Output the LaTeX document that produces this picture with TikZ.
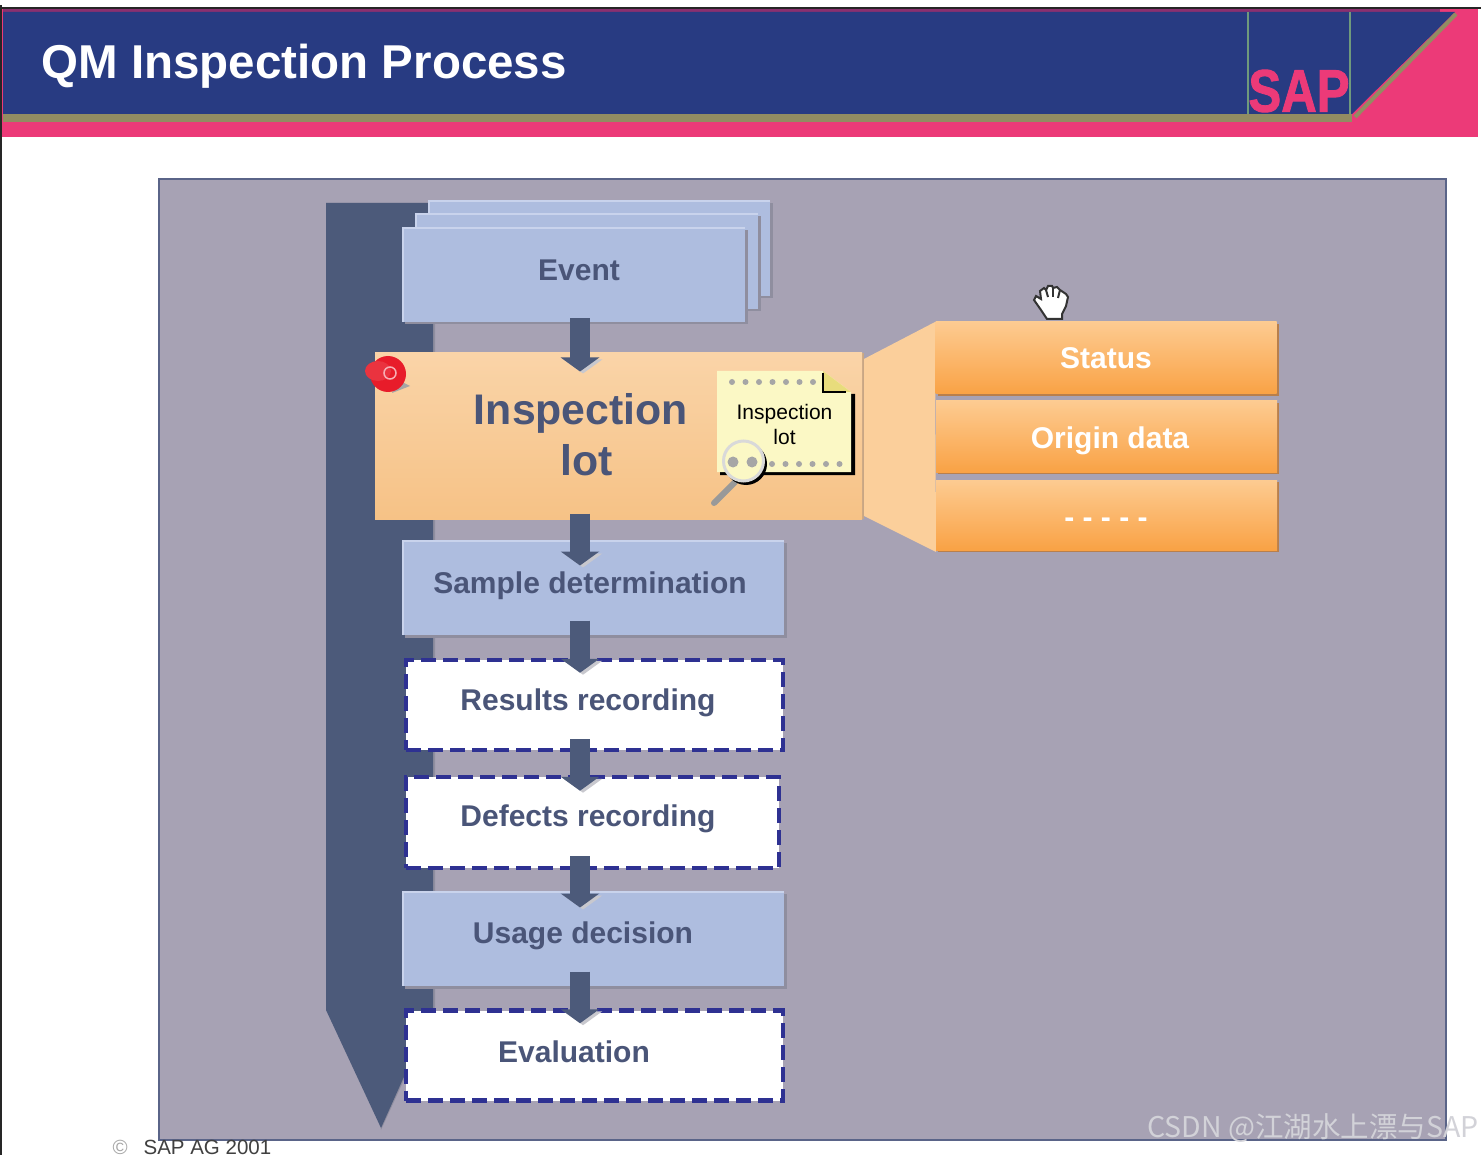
\documentclass[tikz,border=0pt]{standalone}
\usepackage{fontspec}
\setmainfont{Liberation Sans}
\newfontfamily\cjk{Noto Sans CJK SC}
\newfontfamily\logofont[BoldFeatures={FakeBold=1.5}]{Liberation Sans}
\usepackage{xcolor}
\usetikzlibrary{arrows.meta}
\usetikzlibrary{shadows}
\definecolor{sapblue}{HTML}{283B82}
\definecolor{sappink}{HTML}{EC3A78}
\definecolor{sappurple}{HTML}{8A3070}
\definecolor{sapolive}{HTML}{928C62}
\definecolor{sapgreen}{HTML}{6F9A7C}
\definecolor{panelgray}{HTML}{A7A2B4}
\definecolor{paneledge}{HTML}{5A6488}
\definecolor{spine}{HTML}{4C5A7A}
\definecolor{flowblue}{HTML}{AEBDDF}
\definecolor{flowlight}{HTML}{C9D3EC}
\definecolor{flowedge}{HTML}{8F8E9F}
\definecolor{flowtext}{HTML}{4A5578}
\definecolor{dashblue}{HTML}{2E3192}
\definecolor{arrowlight}{HTML}{C8C8CE}
\definecolor{orangetop}{HTML}{FDCB91}
\definecolor{orangelow}{HTML}{F9A245}
\definecolor{orangeedge}{HTML}{B87F4C}
\definecolor{lottop}{HTML}{FAD4A8}
\definecolor{lotlow}{HTML}{F6C286}
\definecolor{lotedge}{HTML}{C8A684}
\definecolor{funnelorange}{HTML}{FBCF9B}
\definecolor{notepaper}{HTML}{FBF8C5}
\definecolor{noteear}{HTML}{E8DC7C}
\definecolor{pinred}{HTML}{E81C2A}
\definecolor{markgray}{HTML}{D2D2D8}
\newcommand{\flowfont}[1]% size
{\fontsize{#1}{#1}\selectfont\bfseries}

\begin{document}
\begin{tikzpicture}[x=1pt,y=-1pt,line width=1pt]
\tikzstyle{flowbox}=[fill=flowblue,inner sep=0pt,general shadow={shadow xshift=2.5pt,shadow yshift=-2.5pt,fill=flowedge},path picture={\draw[flowlight,line width=3pt] (path picture bounding box.south west) -- (path picture bounding box.north west) -- (path picture bounding box.north east);}]
\tikzstyle{dashbox}=[fill=white,draw=dashblue,line width=4.5pt,dash pattern=on 15pt off 7pt,inner sep=0pt]
\tikzstyle{infobox}=[top color=orangetop,bottom color=orangelow,inner sep=0pt,general shadow={shadow xshift=2pt,shadow yshift=-2pt,fill=orangeedge}]
\tikzstyle{flowlabel}=[text=flowtext,inner sep=0pt,font=\flowfont{30}]
\tikzstyle{infolabel}=[text=white,inner sep=0pt,font=\flowfont{30}]
\tikzstyle{flowarrow}=[draw=spine,line width=20pt,-{Triangle[width=38pt,length=14pt]},preaction={draw=arrowlight,-{Triangle[width=38pt,length=14pt]},transform canvas={xshift=3pt,yshift=-2pt}}]
\tikzstyle{notedot}=[fill=black!35]

\useasboundingbox (0,0) rectangle (1481,1155);
\fill[white] (0,0) rectangle (1481,1155);

% header band
\fill[sappink] (0,9) rectangle (1478,137); % pink ground
\fill[sappurple] (3,9) rectangle (1440,12); % strip under top rule
\fill[sapolive] (3,113) rectangle (1352,122); % olive rule
\fill[sapblue] (3,12) -- (1455,12) -- (1352,114) -- (3,114) -- cycle; % blue title area
\draw[sapolive,line width=4pt] (1355,117) -- (1456,14); % slanted rule
\draw[sapgreen,line width=1.5pt] (1248,12) -- (1248,114); % left of logo
\draw[sapgreen,line width=1.5pt] (1350,12) -- (1350,114); % right of logo
\fill[black!85] (0,7) rectangle (1481,9); % top rule
\fill[black!85] (0,5) rectangle (2,1155); % left rule
\draw (41,66) node[anchor=west,text=white,inner sep=0pt,font=\flowfont{47.5}] (title) {QM Inspection Process}; % title
\draw (1299,91) node[text=sappink,inner sep=0pt,font=\logofont\flowfont{60},transform shape,xscale=.82] (logo) {SAP}; % logo

% panel and spine
\draw[fill=panelgray,draw=paneledge,line width=1.5pt] (159,179) rectangle (1446,1140);
\fill[flowedge] (326,203) -- (435,203) -- (435,1012) -- (381,1130) -- cycle; % spine edge
\fill[spine] (326,203) -- (433,203) -- (433,1012) -- (381,1128) -- (326,1010) -- cycle; % spine

% event stack
\draw (599,248.5) node[flowbox,minimum width=342pt,minimum height=95pt] (eventback) {}; % back sheet
\draw (586.5,261.5) node[flowbox,minimum width=343pt,minimum height=95pt] (eventmid) {}; % middle sheet
\draw (573.5,275) node[flowbox,minimum width=343pt,minimum height=94pt] (event) {}; % front sheet
\draw (579,270) node[flowlabel] (eventtext) {Event};

% funnel to the info boxes
\fill[funnelorange] (862,360) -- (935,322) -- (936,552) -- (862,515) -- cycle;
\draw (1106,358) node[infobox,minimum width=341pt,minimum height=72pt] (status) {};
\draw (1106,358) node[infolabel] (statustext) {Status};
\draw (1106.5,436.5) node[infobox,minimum width=341pt,minimum height=71pt] (origin) {};
\draw (1110,441) node[infolabel] (origintext) {Origin data};
\draw (1106.5,515) node[infobox,minimum width=341pt,minimum height=70pt] (more) {};
\draw (1106,523) node[infolabel] (moretext) {- - - - -};

% inspection lot
\draw (618.5,436) node[top color=lottop,bottom color=lotlow,inner sep=0pt,minimum width=487pt,minimum height=166pt,general shadow={shadow xshift=2pt,shadow yshift=0pt,fill=lotedge}] (lot) {};
\draw (581,435) node[align=center,inner sep=0pt,text=flowtext,font=\flowfont{42.8}] (lottext) {Inspection\\[8pt]\hspace*{11pt}lot};

% note icon
\fill[black] (851,394) -- (855,394) -- (855,475) -- (720,475) -- (720,470) -- (851,470) -- cycle; % note shadow
\fill[notepaper] (717,371) -- (823,371) -- (851,392) -- (851,472) -- (717,472) -- cycle; % note
\fill[noteear] (823,371) -- (851,392) -- (823,392) -- cycle; % folded corner
\draw[black,line width=2pt] (823,373) -- (823,392) -- (846,392);
\fill[notedot] (732,382) circle (3pt) (745.5,382) circle (3pt) (759,382) circle (3pt) (772.5,382) circle (3pt) (786,382) circle (3pt) (799.5,382) circle (3pt) (813,382) circle (3pt); % top holes
\fill[notedot] (772,464) circle (3pt) (785.5,464) circle (3pt) (799,464) circle (3pt) (812.5,464) circle (3pt) (826,464) circle (3pt) (839.5,464) circle (3pt); % bottom holes
\draw (784.5,424) node[align=center,inner sep=0pt,text=black,font=\fontsize{21}{25}\selectfont] (notetext) {Inspection\\lot};
\draw[black!40,line width=6pt,line cap=round] (735,482) -- (714,503); % lens handle
\fill[black] (746,464) circle (21pt); % lens shadow
\draw[fill=notepaper,draw=white!85!black,line width=3pt] (743.5,461) circle (20pt); % lens
\fill[notedot] (733,462) circle (5.5pt) (752,462) circle (5.5pt); % holes under lens

% red pin
\fill[black!35] (398,380) -- (410,386) -- (392,393) -- cycle; % pin shadow
\fill[pinred] (388,374) circle (18pt);
\fill[pinred!90!white] (378,371) ellipse (13pt and 10pt);
\draw[white!65!pinred,line width=1.5pt] (390,373) circle (6pt);

% hand cursor
\draw[fill=white,draw=black!80,line width=2pt] (1047,319) -- (1041,310) -- (1034,300) -- (1036,296) -- (1041,299) -- (1040,291) -- (1044,288) -- (1046,290) -- (1048,286) -- (1052,286) -- (1053,288) -- (1057,287) -- (1060,290) -- (1063,292) -- (1066,294) -- (1068,297) -- (1066,306) -- (1062,314) -- (1062,319) -- cycle;
\draw[black!80,line width=2pt] (1046,290) -- (1048,297);
\draw[black!80,line width=2pt] (1053,288) -- (1053,297);
\draw[black!80,line width=2pt] (1060,290) -- (1058,298);

% steps below the lot
\draw (593,587.5) node[flowbox,minimum width=382pt,minimum height=95pt] (sample) {};
\draw (590,586) node[flowlabel] (sampletext) {Sample determination};
\draw (594.5,705) node[dashbox,minimum width=377pt,minimum height=90pt] (results) {};
\draw (588,703) node[flowlabel] (resultstext) {Results recording};
\draw (592.5,822.5) node[dashbox,minimum width=373pt,minimum height=91pt] (defects) {};
\draw (588,819) node[flowlabel] (defectstext) {Defects recording};
\draw (593,938.5) node[flowbox,minimum width=382pt,minimum height=95pt] (usage) {};
\draw (583,936) node[flowlabel] (usagetext) {Usage decision};
\draw (594.5,1055.5) node[dashbox,minimum width=377pt,minimum height=90pt] (evaluation) {};
\draw (574,1052) node[flowlabel] (evaluationtext) {Evaluation};

% arrows between the steps
\coordinate (axis) at (580,0);
\draw[flowarrow,shorten <=-4pt,shorten >=-19pt] (event.south -| axis) -- (lot.north -| axis);
\draw[flowarrow,shorten <=-6pt,shorten >=-26pt] (lot.south -| axis) -- (sample.north -| axis);
\draw[flowarrow,shorten <=-15pt,shorten >=-15pt] (sample.south -| axis) -- (results.north -| axis);
\draw[flowarrow,shorten <=-13pt,shorten >=-16pt] (results.south -| axis) -- (defects.north -| axis);
\draw[flowarrow,shorten <=-14pt,shorten >=-17pt] (defects.south -| axis) -- (usage.north -| axis);
\draw[flowarrow,shorten <=-15pt,shorten >=-15pt] (usage.south -| axis) -- (evaluation.north -| axis);

% footer
\draw (112,1147.5) node[anchor=west,inner sep=0pt,text=black!75,font=\fontsize{20.5}{20.5}\selectfont] (copyright) {\textcolor{black!35}{©}\hspace{16pt}SAP AG 2001};
\draw (1147,1128) node[anchor=west,inner sep=0pt,text=markgray,font=\fontsize{28.5}{28.5}\cjk] (watermark) {CSDN @江湖水上漂与SAP};
\end{tikzpicture}
\end{document}
